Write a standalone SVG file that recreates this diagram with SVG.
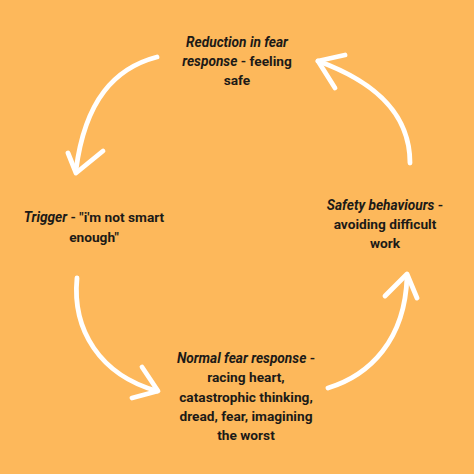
<svg xmlns="http://www.w3.org/2000/svg" width="474" height="474" viewBox="0 0 474 474">
<style>
.t{font-family:Roboto,"Liberation Sans",sans-serif;font-weight:700;font-size:13.7px;fill:#1c1a17;text-anchor:middle}
.i{font-style:italic}
.a{fill:none;stroke:#ffffff;stroke-width:4.8;stroke-linecap:round;stroke-linejoin:round}
</style>
<rect width="474" height="474" fill="#fdb85b"/>
<g id="connectors">
<path class="a" d="M157,57 C115,68 85,100 76,170"/>
<path class="a" d="M68,153 L76,173 L103,151"/>
<path class="a" d="M410,163 C410,110 370,80 318,61"/>
<path class="a" d="M345,55 L318,61 L335,88"/>
<path class="a" d="M77,278 C72,330 100,375 157,391"/>
<path class="a" d="M142,367 L158,391 L132,398"/>
<path class="a" d="M328,388 C370,375 405,340 407,277"/>
<path class="a" d="M385,296 L407,274 L417,298"/>
</g>
<g id="reduction">
<text class="t" x="237" y="47"><tspan class="i">Reduction in fear</tspan></text>
<text class="t" x="237" y="66"><tspan class="i">response</tspan> - feeling</text>
<text class="t" x="237" y="85">safe</text>
</g>
<g id="trigger">
<text class="t" x="94" y="222"><tspan class="i">Trigger</tspan> - "i'm not smart</text>
<text class="t" x="94" y="242">enough"</text>
</g>
<g id="safety">
<text class="t" x="385" y="210"><tspan class="i">Safety behaviours</tspan> -</text>
<text class="t" x="385" y="229">avoiding difficult</text>
<text class="t" x="385" y="248">work</text>
</g>
<g id="normal">
<text class="t" x="246" y="363"><tspan class="i">Normal fear response</tspan> -</text>
<text class="t" x="246" y="382">racing heart,</text>
<text class="t" x="246" y="402">catastrophic thinking,</text>
<text class="t" x="246" y="421">dread, fear, imagining</text>
<text class="t" x="246" y="440">the worst</text>
</g>
</svg>
